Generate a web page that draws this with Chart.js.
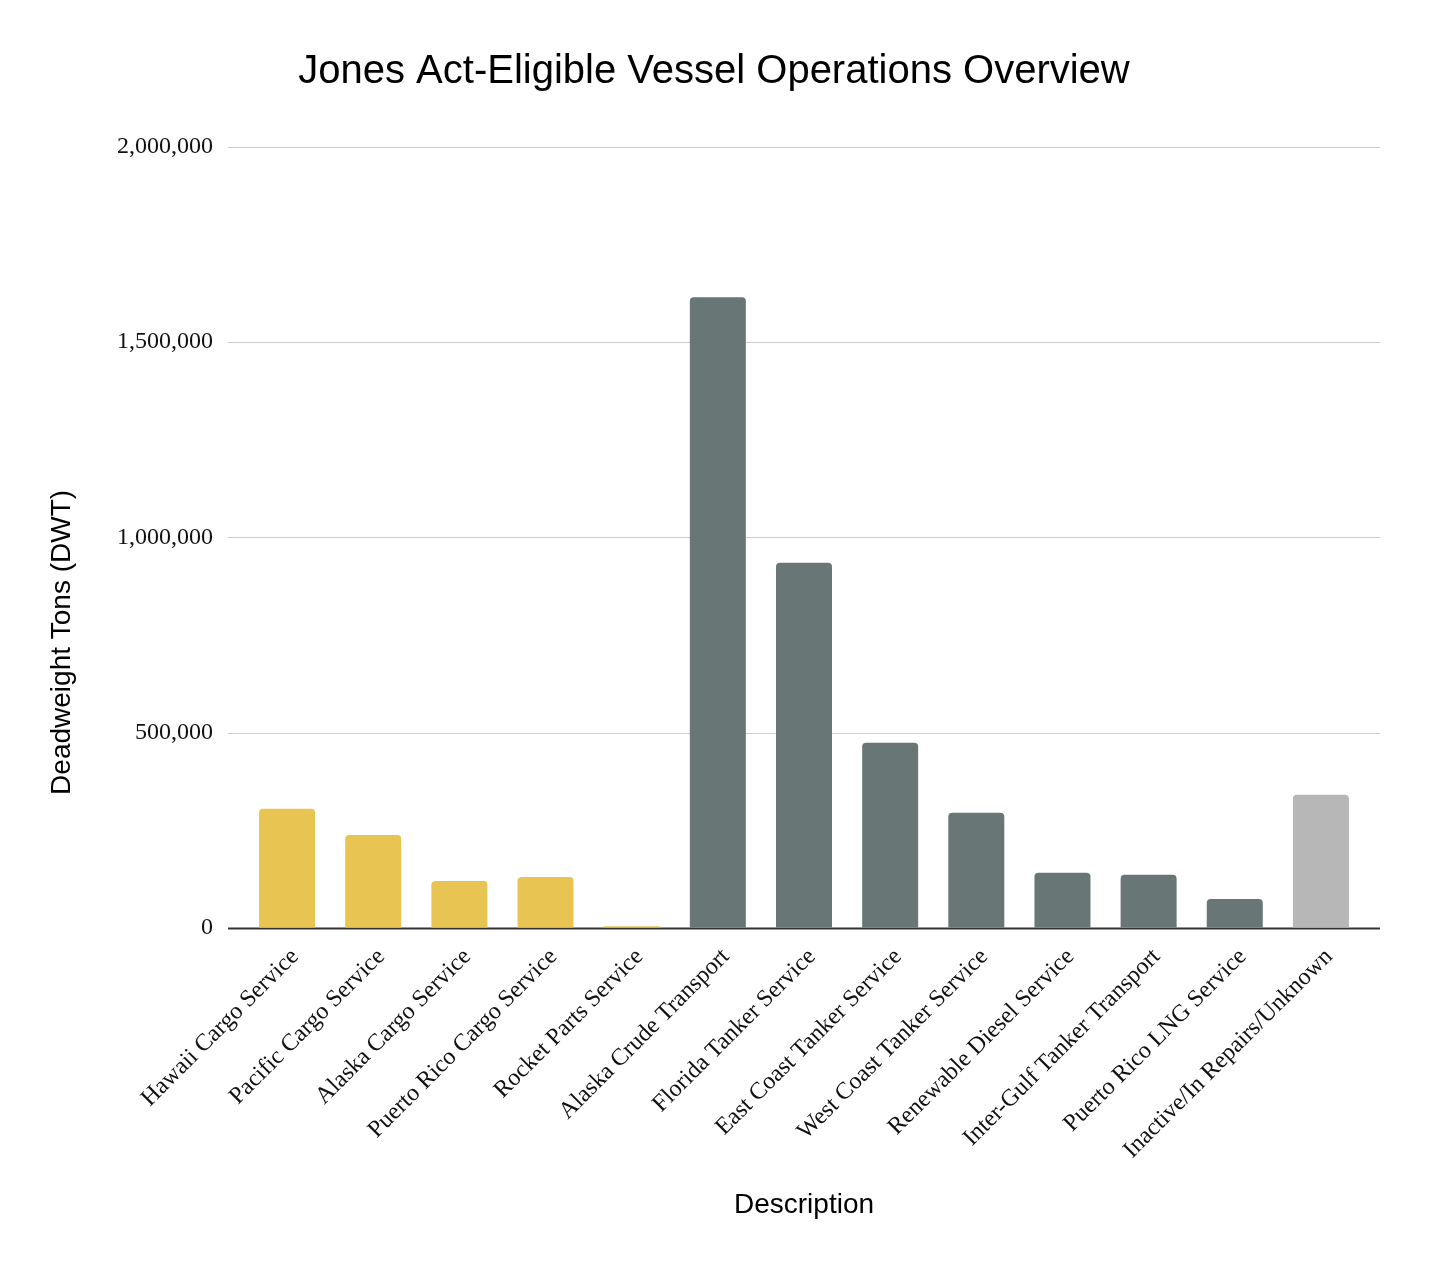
<!DOCTYPE html>
<html>
<head>
<meta charset="utf-8">
<title>Jones Act-Eligible Vessel Operations Overview</title>
<script src="https://cdn.jsdelivr.net/npm/chart.js@4.4.1/dist/chart.umd.min.js"></script>
<style>
  html, body { margin: 0; padding: 0; background: #fff; }
  #wrap { width: 1434px; height: 1270px; }
</style>
</head>
<body>
<div id="wrap"><canvas id="vesselChart" width="1434" height="1270"></canvas></div>
<script>
// --- data ---
const categories = [
  "Hawaii Cargo Service",
  "Pacific Cargo Service",
  "Alaska Cargo Service",
  "Puerto Rico Cargo Service",
  "Rocket Parts Service",
  "Alaska Crude Transport",
  "Florida Tanker Service",
  "East Coast Tanker Service",
  "West Coast Tanker Service",
  "Renewable Diesel Service",
  "Inter-Gulf Tanker Transport",
  "Puerto Rico LNG Service",
  "Inactive/In Repairs/Unknown"
];
const dwt = [305000, 238000, 120000, 130000, 4000, 1615000, 935000, 474000, 295000, 141000, 136000, 74000, 341000];
const groups = ["cargo", "cargo", "cargo", "cargo", "cargo",
  "tanker", "tanker", "tanker", "tanker", "tanker", "tanker", "tanker", "inactive"];
const yTicks = [0, 500000, 1000000, 1500000, 2000000];
const yTitle = "Deadweight Tons (DWT)";

const groupColors = { cargo: "#E8C452", tanker: "#687676", inactive: "#B7B7B7" };
const serif = "'Liberation Serif', 'Times New Roman', serif";
const sans = "'Liberation Sans', Arial, Helvetica, sans-serif";

// horizontal grid lines run a little past the bars on both sides
const gridPlugin = {
  id: "wideGrid",
  beforeDatasetsDraw(chart) {
    const { ctx, chartArea, scales } = chart;
    const ext = 16;
    ctx.save();
    yTicks.forEach(v => {
      const y = Math.round(scales.y.getPixelForValue(v)) + 0.5;
      ctx.beginPath();
      ctx.lineWidth = v === 0 ? 2 : 1;
      ctx.strokeStyle = v === 0 ? "#333333" : "#CCCCCC";
      ctx.moveTo(chartArea.left - ext, y);
      ctx.lineTo(chartArea.right + ext, y);
      ctx.stroke();
    });
    ctx.restore();
  }
};

// y axis title sits lower than the plot centre in the original
const yTitlePlugin = {
  id: "yTitle",
  afterDraw(chart) {
    const { ctx, chartArea } = chart;
    ctx.save();
    ctx.translate(62, (chartArea.top + chartArea.bottom) / 2 + 105);
    ctx.rotate(-Math.PI / 2);
    ctx.font = "28px " + sans;
    ctx.fillStyle = "#000";
    ctx.textAlign = "center";
    ctx.textBaseline = "middle";
    ctx.fillText(yTitle, 0, 0);
    ctx.restore();
  }
};

const ctx = document.getElementById("vesselChart").getContext("2d");
new Chart(ctx, {
  type: "bar",
  data: {
    labels: categories,
    datasets: [{
      label: yTitle,
      data: dwt,
      backgroundColor: groups.map(g => groupColors[g]),
      borderRadius: 4,
      barPercentage: 0.65,
      categoryPercentage: 1
    }]
  },
  options: {
    responsive: false,
    animation: false,
    devicePixelRatio: 1,
    layout: { padding: { top: 48, left: 64, right: 70, bottom: 48 } },
    plugins: {
      legend: { display: false },
      tooltip: { enabled: false },
      title: {
        display: true,
        text: "Jones Act-Eligible Vessel Operations Overview",
        color: "#000",
        font: { family: sans, size: 40, weight: "normal" },
        padding: { top: 0, bottom: 51 }
      }
    },
    scales: {
      x: {
        grid: { display: false, drawTicks: false },
        border: { display: false },
        afterFit: s => { s.paddingLeft = 0; s.paddingRight = 0; },
        ticks: {
          color: "#111",
          font: { family: serif, size: 24 },
          minRotation: 45,
          maxRotation: 45,
          autoSkip: false,
          padding: 15,
          labelOffset: 8
        },
        title: {
          display: true,
          text: "Description",
          color: "#000",
          font: { family: sans, size: 28 },
          padding: { top: 9, bottom: 0 }
        }
      },
      y: {
        min: 0,
        max: 2000000,
        grid: { display: false, drawTicks: false },
        border: { display: false },
        afterBuildTicks: scale => { scale.ticks = yTicks.map(v => ({ value: v })); },
        afterFit: s => { s.width = 180; },
        ticks: {
          color: "#111",
          font: { family: serif, size: 24 },
          padding: 31,
          callback: v => v.toLocaleString("en-US")
        },
        title: { display: false }
      }
    }
  },
  plugins: [gridPlugin, yTitlePlugin]
});
</script>
</body>
</html>
